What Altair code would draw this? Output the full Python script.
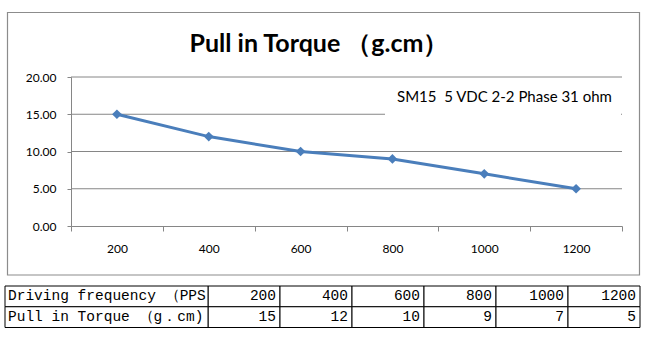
import altair as alt
import pandas as pd

# ---- data ----
freqs = ["200", "400", "600", "800", "1000", "1200"]
torque = [15, 12, 10, 9, 7, 5]
y_ticks = [0, 5, 10, 15, 20]
grid_vals = [5, 10, 15, 20]
title_text = "Pull in Torque （g.cm）"
note_text = "SM15\u00a0 5 VDC 2-2 Phase 31 ohm"
row_labels = ["Driving frequency （PPS）", "Pull in Torque （g．cm)"]

# ---- layout constants ----
W, H = 650, 343
PX0, PX1 = 71, 622      # plot area x range
PY0, PY1 = 226, 77      # plot area y range (bottom, top)
TX0, TXL, TX1 = 5, 208, 640   # table x edges
TY0, TY1 = 286, 327.5         # table y edges
BLUE = "#4A7EBB"
GRAY = "#868686"
FONT = "Lato"
MONO = "Liberation Mono"

df = pd.DataFrame({"freq": freqs, "torque": torque})
one = pd.DataFrame({"k": [0]})
grid_df = pd.DataFrame({"g": grid_vals})

rows = []
for r, vals in enumerate([freqs, [str(t) for t in torque]]):
    for c, v in enumerate(vals):
        rows.append({"r": r, "r2": r + 1, "rm": r + 0.5, "c": c, "c2": c + 1, "txt": v})
tbl = pd.DataFrame(rows)
lbl = pd.DataFrame({"r": [0, 1], "r2": [1, 2], "rm": [0.5, 1.5], "txt": row_labels})

xs = alt.Scale(type="band", domain=freqs, range=[PX0, PX1], paddingInner=0, paddingOuter=0)
ys = alt.Scale(domain=[0, 20], range=[PY0, PY1], nice=False, zero=False)
tx = alt.Scale(domain=[0, 6], range=[TXL, TX1], nice=False, zero=False)
ty = alt.Scale(domain=[0, 2], range=[TY0, TY1], nice=False, zero=False)

border = alt.Chart(one).mark_rect(fill="white", stroke="#8C8C8C", strokeWidth=1.2).encode(
    x=alt.value(7.5), x2=alt.value(639.5), y=alt.value(12.5), y2=alt.value(275)
)

title = alt.Chart(one).mark_text(
    text=title_text, font=FONT, fontWeight="bold", fontSize=25, align="center", baseline="middle", color="black"
).encode(x=alt.value(319), y=alt.value(44))

grid = alt.Chart(grid_df).mark_rule(color=GRAY, strokeWidth=1).encode(
    y=alt.Y("g:Q", scale=ys, axis=None), x=alt.value(PX0), x2=alt.value(PX1)
)

note_box = alt.Chart(one).mark_rect(fill="white").encode(
    x=alt.value(385), x2=alt.value(621), y=alt.value(84), y2=alt.value(120)
)
note = alt.Chart(one).mark_text(
    text=note_text, font=FONT, fontSize=15, align="left", baseline="middle", color="black"
).encode(x=alt.value(397), y=alt.value(97))

line = alt.Chart(df).mark_line(color=BLUE, strokeWidth=3).encode(
    x=alt.X("freq:O", scale=xs, sort=freqs, bandPosition=0.5,
            axis=alt.Axis(orient="bottom", offset=-(H - PY0), title=None, tickBand="extent",
                          labelAngle=0, labelFont=FONT, labelFontSize=12, labelColor="black",
                          labelPadding=12, tickSize=5, tickColor=GRAY, domainColor=GRAY,
                          grid=False, zindex=1)),
    y=alt.Y("torque:Q", scale=ys,
            axis=alt.Axis(orient="left", offset=-PX0, title=None, values=y_ticks, format=".2f",
                          labelFont=FONT, labelFontSize=12, labelColor="black", labelPadding=11,
                          tickSize=4, tickColor=GRAY, domainColor=GRAY, grid=False, zindex=1)),
)
points = alt.Chart(df).mark_point(shape="diamond", filled=True, size=95, color=BLUE, opacity=1).encode(
    x=alt.X("freq:O", scale=xs, sort=freqs, bandPosition=0.5, axis=None),
    y=alt.Y("torque:Q", scale=ys, axis=None),
)

cells = alt.Chart(tbl).mark_rect(fill="white", stroke="black", strokeWidth=1).encode(
    x=alt.X("c:Q", scale=tx, axis=None), x2="c2:Q",
    y=alt.Y("r:Q", scale=ty, axis=None), y2="r2:Q",
)
cell_text = alt.Chart(tbl).mark_text(font=MONO, fontSize=14.5, align="right", baseline="middle", dx=-4, color="black").encode(
    x=alt.X("c2:Q", scale=tx, axis=None),
    y=alt.Y("rm:Q", scale=ty, axis=None),
    text="txt:N",
)
lbl_cells = alt.Chart(lbl).mark_rect(fill="white", stroke="black", strokeWidth=1).encode(
    x=alt.value(TX0), x2=alt.value(TXL),
    y=alt.Y("r:Q", scale=ty, axis=None), y2="r2:Q",
)
lbl_text = alt.Chart(lbl).mark_text(font=MONO, fontSize=14.5, align="left", baseline="middle",
                                    limit=200, ellipsis="\u200b", color="black").encode(
    x=alt.value(TX0 + 3),
    y=alt.Y("rm:Q", scale=ty, axis=None),
    text="txt:N",
)

chart = alt.layer(
    border, title, grid, note_box, note, line, points, cells, cell_text, lbl_cells, lbl_text
).resolve_scale(x="independent", y="independent").properties(
    width=W, height=H, padding=0, autosize=alt.AutoSizeParams(type="none"), background="white"
).configure_view(stroke=None)

chart.save("out.html", embed_options={"renderer": "svg", "actions": False})
